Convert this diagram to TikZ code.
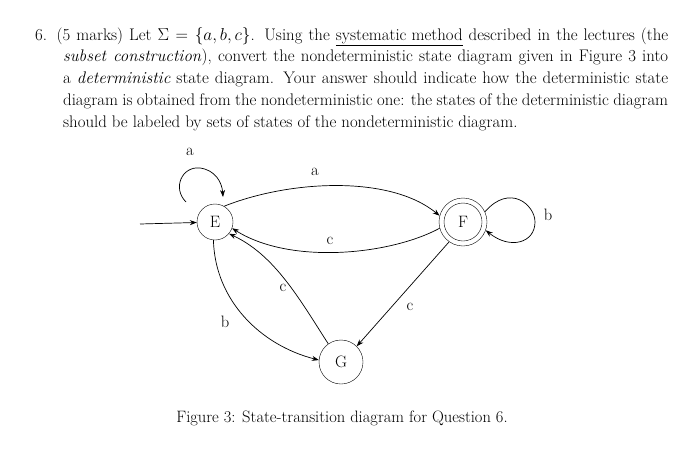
\documentclass[tikz,border=0pt]{standalone}
\usetikzlibrary{arrows.meta}
\begin{document}
\begin{tikzpicture}[x=1pt,y=-1pt,
  st/.style={draw,circle,minimum size=36pt,inner sep=0pt,font=\fontsize{16.5}{18}\selectfont},
  lbl/.style={font=\fontsize{16.5}{18}\selectfont},
  ed/.style={-{Stealth[length=7pt,width=5pt]},line width=0.7pt}]
\useasboundingbox (0,0) rectangle (695,468);
\node[anchor=north west,text width=633pt,align=justify,inner sep=0pt,font=\fontsize{16.8}{21.8}\selectfont] (txt) at (35,27) {6. (5 marks) Let $\Sigma=\{a,b,c\}$. Using the \underline{systematic method} described in the lectures (the\linebreak
\hspace*{28pt}\textit{subset construction}), convert the nondeterministic state diagram given in Figure 3 into\linebreak
\hspace*{28pt}a \textit{deterministic} state diagram. Your answer should indicate how the deterministic state\linebreak
\hspace*{28pt}diagram is obtained from the nondeterministic one: the states of the deterministic diagram\linebreak
\hspace*{28pt}should be labeled by sets of states of the nondeterministic diagram.};
\node[st] (E) at (215,222) {E};
\node[st,minimum size=48pt] (F) at (463,222) {};
\node[st,minimum size=38pt] (Fi) at (463,222) {F};
\node[st,minimum size=44pt] (G) at (341,362) {G};
\coordinate (s) at (140,224);
\draw[ed] (s) -- (E);
\coordinate (el) at (186,202);
\draw[ed] (el) .. controls (172,188) and (182,166) .. (200,168) .. controls (215,170) and (222,182) .. (223,197);
\node[lbl] (la) at (190,152) {a};
\draw[ed] (F.25) .. controls (510,183) and (535,205) .. (535,222) .. controls (535,243) and (510,250) .. (F.-20);
\node[lbl] (lb) at (548,215) {b};
\draw[ed] (E.60) .. controls (290,180) and (390,175) .. (F.165);
\node[lbl] (la2) at (315,172) {a};
\draw[ed] (F.195) .. controls (390,255) and (290,265) .. (E.-20);
\node[lbl] (lc1) at (330,241) {c};
\draw[ed] (F.235) -- (G.45);
\node[lbl] (lc2) at (410,307) {c};
\draw[ed] (E.-95) .. controls (215,300) and (260,345) .. (G.175);
\node[lbl] (lb2) at (225,322) {b};
\draw[ed] (G.125) .. controls (300,300) and (275,255) .. (E.-40);
\node[lbl] (lc3) at (283,288) {c};
\node[lbl] (cap) at (342,418) {Figure 3: State-transition diagram for Question 6.};
\end{tikzpicture}
\end{document}
